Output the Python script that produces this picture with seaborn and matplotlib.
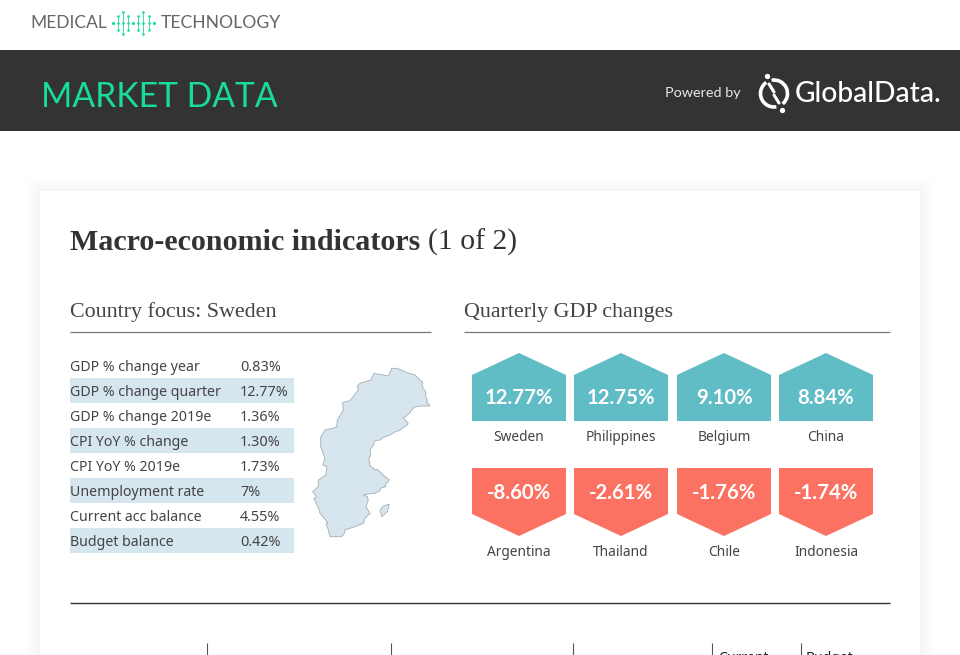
import matplotlib.pyplot as plt
import matplotlib.patches as mpatches
import seaborn as sns

# DATA
indicator_names = ['GDP % change year', 'GDP % change quarter', 'GDP % change 2019e', 'CPI YoY % change',
                   'CPI YoY % 2019e', 'Unemployment rate', 'Current acc balance', 'Budget balance']
indicator_values = ['0.83%', '12.77%', '1.36%', '1.30%', '1.73%', '7%', '4.55%', '0.42%']

top_countries = ['Sweden', 'Philippines', 'Belgium', 'China']
top_changes = [12.77, 12.75, 9.10, 8.84]
bottom_countries = ['Argentina', 'Thailand', 'Chile', 'Indonesia']
bottom_changes = [-8.60, -2.61, -1.76, -1.74]

# outline of Sweden
sweden_x = [275, 292, 320, 345, 362, 368, 366, 378, 376, 382, 380, 390, 365, 350, 342, 328, 310, 318, 325, 300, 285,
            270, 250, 240, 225, 220, 210, 212, 206, 210, 208, 225, 232, 250, 268, 255, 258, 240, 240, 225, 205, 190, 202, 205,
            198, 210, 195, 190, 165, 135, 132, 125, 90, 85, 78, 84, 60, 56, 48, 42, 50, 38,
            55, 55, 78, 80, 68, 75, 62, 62, 75, 110, 112, 130, 128, 150, 175, 172, 180, 212, 222, 265]
sweden_y = [55, 55, 68, 75, 92, 96, 108, 128, 136, 150, 155, 168, 168, 170, 172, 190, 205, 212, 222, 240, 246,
            255, 262, 270, 272, 285, 300, 318, 325, 340, 345, 360, 358, 375, 390, 405, 410, 415, 422, 430, 432, 435, 440, 450,
            470, 490, 505, 520, 530, 540, 552, 560, 560, 540, 520, 518, 490, 475, 460, 445, 440, 425,
            410, 390, 375, 350, 345, 325, 290, 262, 240, 232, 210, 180, 158, 152, 120, 108, 100, 90, 70, 78]
gotland_x = [240, 250, 268, 262, 245]
gotland_y = [480, 468, 462, 485, 500]

bottom_cols = [207, 391, 573, 712, 801]

TEAL = '#60bcc5'
CORAL = '#fb7262'
MINT = '#17dc9e'
BAND = '#333333'
STRIPE = '#d6e6ef'
INK = '#444444'
SANS = 'Noto Sans'
SERIF = 'Liberation Serif'

sns.set_theme(style='white')
fig = plt.figure(figsize=(9.6, 6.55), dpi=100)
ax = fig.add_axes([0, 0, 1, 1])
ax.set_xlim(0, 960)
ax.set_ylim(655, 0)
ax.axis('off')

# header band
ax.add_patch(mpatches.Rectangle((0, 50), 960, 81, color=BAND, lw=0))
ax.text(30, 28.5, 'MEDICAL', family='Lato', fontsize=12.5, color='#666666')
ax.text(161, 28.5, 'TECHNOLOGY', family='Lato', fontsize=12.6, color='#666666')
ax.text(41, 107, 'MARKET DATA', family='Lato', fontsize=24.2, color=MINT)
ax.text(665, 97, 'Powered by', family='Lato', fontsize=10.4, color='#e8e8e8')
ax.text(795, 102, 'GlobalData.', family='Lato', fontweight='medium', fontsize=20.3, color='white')

# dna icon
for x0, half in [(112.7, 0), (117.5, 7), (122.7, 11), (128, 7), (133, 0), (138, 7), (143, 11), (149, 7), (154, 0)]:
    ax.plot([x0, x0], [23 - half, 23 + half], color=MINT, lw=0.6, solid_capstyle='butt')
    ax.plot([x0, x0, x0], [23 - half, 23, 23 + half], ls='none', marker='o', ms=1.9, color=MINT, mew=0)

# globaldata roundel
ax.add_patch(mpatches.Arc((774, 93.5), 27, 27, theta1=-100, theta2=50, color='white', lw=2.6))
ax.add_patch(mpatches.Arc((774, 93.5), 27, 27, theta1=80, theta2=235, color='white', lw=2.6))
ax.plot([769, 774], [84, 92], color='white', lw=2.2)
ax.plot([774, 779], [95, 103], color='white', lw=2.2)
ax.plot([767, 782], [76, 110], ls='none', marker='o', ms=2.8, color='white')

# card with a soft shadow
for grow, alpha in [(18, 0.004), (14, 0.005), (10, 0.006), (7, 0.007), (4, 0.008), (2, 0.008)]:
    ax.add_patch(mpatches.Rectangle((40 - grow, 191 - grow), 880 + 2 * grow, 480, color='black', alpha=alpha, lw=0))
ax.add_patch(mpatches.Rectangle((40, 191), 880, 480, color='white', lw=0))

ax.text(70, 250, 'Macro-economic indicators', family=SERIF, fontweight='bold', fontsize=21.6, color='#333333')
ax.text(428, 250, '(1 of 2)', family=SERIF, fontsize=21.4, color='#333333')

ax.text(70, 317, 'Country focus: Sweden', family=SERIF, fontsize=15.8, color=INK)
ax.text(464, 317, 'Quarterly GDP changes', family=SERIF, fontsize=15.8, color=INK)
ax.plot([70, 431], [332, 332], color='#777777', lw=0.9, solid_capstyle='butt')
ax.plot([464, 890], [332, 332], color='#777777', lw=0.9, solid_capstyle='butt')

# indicator table
for i, (name, value) in enumerate(zip(indicator_names, indicator_values)):
    yc = 366 + 25 * i
    if i % 2 == 1:
        ax.add_patch(mpatches.Rectangle((70, yc - 13), 224, 25, color=STRIPE, lw=0))
    ax.text(70, yc + 5, name, family=SANS, fontsize=10.2, color=INK)
    ax.text(240, yc + 5, value, family=SANS, fontsize=10.4, color=INK)

# map
to_px = lambda xs, ys: [(300 + x / 3, 350 + y / 3) for x, y in zip(xs, ys)]
ax.add_patch(mpatches.Polygon(to_px(sweden_x, sweden_y), fc='#d7e6ee', ec='#a3adb3', lw=0.6))
ax.add_patch(mpatches.Polygon(to_px(gotland_x, gotland_y), fc='#d7e6ee', ec='#a3adb3', lw=0.6))

# hexagon badges
col_left = [472, 574, 677, 779]
for left, country, change in zip(col_left, top_countries, top_changes):
    mid = left + 47
    pts = [(left, 375), (mid, 353), (left + 94, 375), (left + 94, 421), (left, 421)]
    ax.add_patch(mpatches.Polygon(pts, color=TEAL, lw=0))
    ax.text(mid, 404, f'{change:.2f}%', family='Lato', fontweight='bold', fontsize=14.6, color='white', ha='center')
    ax.text(mid, 441, country, family=SANS, fontsize=9.9, color=INK, ha='center')

for left, country, change in zip(col_left, bottom_countries, bottom_changes):
    mid = left + 47
    pts = [(left, 468), (left + 94, 468), (left + 94, 514), (mid, 536), (left, 514)]
    ax.add_patch(mpatches.Polygon(pts, color=CORAL, lw=0))
    ax.text(mid, 499, f'{change:.2f}%', family='Lato', fontweight='bold', fontsize=14.6, color='white', ha='center')
    ax.text(mid, 556, country, family=SANS, fontsize=9.9, color=INK, ha='center')

ax.plot([70, 890], [603, 603], color='#333333', lw=1, solid_capstyle='butt')

# table that runs off the bottom of the page
for x0 in bottom_cols:
    ax.plot([x0, x0], [643, 655], color='#555555', lw=0.8, solid_capstyle='butt')
ax.text(718, 651, 'Current', family=SANS, fontsize=10, color='#222222', va='top')
ax.text(806, 651, 'Budget', family=SANS, fontsize=10, color='#222222', va='top')

fig.savefig('out.png', dpi=100)
